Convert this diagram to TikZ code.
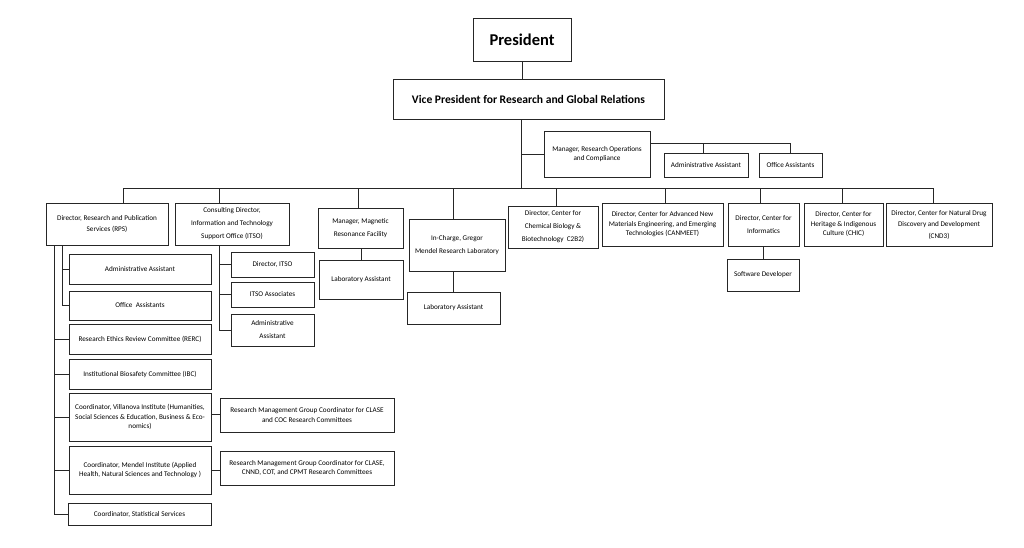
\documentclass[tikz,border=0pt]{standalone}
\usepackage{fontspec}
\setmainfont{Carlito}
\usetikzlibrary{positioning}

\tikzset{
  box/.style={draw=black!85,line width=0.8pt,align=center,inner sep=0pt,
    font=\fontsize{7.2}{9.5}\selectfont},
  loose/.style={font=\fontsize{7.2}{13}\selectfont},
  wh/.style 2 args={minimum width=#1pt,minimum height=#2pt},
  link/.style={draw=black!85,line width=0.8pt}
}

\begin{document}
\begin{tikzpicture}[x=1pt,y=-1pt]
  \useasboundingbox (0,0) rectangle (1024,547);

  % top of the tree
  \node[box,wh={98}{43},font=\fontsize{16.5}{19}\selectfont\bfseries] (pres) at (522,39.5) {President};
  \node[box,wh={271}{40},font=\fontsize{11.6}{14}\selectfont\bfseries] (vp) at (528.5,99)
    {Vice President for Research and Global Relations};
  \node[box,wh={106}{46}] (mgr) at (597,154) {Manager, Research Operations\\and Compliance};
  \node[box,wh={84}{24}] (mgraa) at (706,165) {Administrative Assistant};
  \node[box,wh={63}{24}] (mgroa) at (790.5,165) {Office Assistants};

  % directors
  \node[box,loose,wh={122}{42},font=\fontsize{7.2}{11.5}\selectfont] (rps) at (107,224)
    {Director, Research and Publication\\Services (RPS)};
  \node[box,loose,wh={114}{42}] (itso) at (232,224)
    {Consulting Director,\\Information and Technology\\Support Office (ITSO)};
  \node[box,loose,wh={85}{40}] (mrf) at (360.5,228) {Manager, Magnetic\\Resonance Facility};
  \node[box,loose,wh={96}{52}] (gml) at (457,245) {In-Charge, Gregor\\Mendel Research Laboratory};
  \node[box,loose,wh={90}{42}] (c2b2) at (553,227)
    {Director, Center for\\Chemical Biology \&\\Biotechnology~ C2B2)};
  \node[box,wh={121}{43}] (canmeet) at (662.5,224.5)
    {Director, Center for Advanced New\\Materials Engineering, and Emerging\\Technologies (CANMEET)};
  \node[box,wh={71}{43},font=\fontsize{7.2}{12.5}\selectfont] (cfi) at (763.5,224.5)
    {Director, Center for\\Informatics};
  \node[box,wh={79}{43}] (chic) at (843.5,224.5)
    {Director, Center for\\Heritage \& Indigenous\\Culture (CHIC)};
  \node[box,wh={106}{43},font=\fontsize{7.2}{11.5}\selectfont] (cnd3) at (939,224.5)
    {Director, Center for Natural Drug\\Discovery and Development\\(CND3)};

  % staff under directors
  \node[box,wh={84}{39}] (mrfla) at (361,279.5) {Laboratory Assistant};
  \node[box,wh={93}{32}] (gmlla) at (453.5,308) {Laboratory Assistant};
  \node[box,wh={72}{32}] (sd) at (763,275) {Software Developer};

  \node[box,wh={83}{25}] (ditso) at (272.5,264.5) {Director, ITSO};
  \node[box,wh={83}{25}] (itsoa) at (272.5,294.5) {ITSO Associates};
  \node[box,loose,wh={83}{32}] (itsoaa) at (272.5,330) {Administrative\\Assistant};

  % RPS column
  \node[box,wh={142}{30}] (rpsaa) at (140,269) {Administrative Assistant};
  \node[box,wh={142}{29}] (rpsoa) at (140,305.5) {Office~ Assistants};
  \node[box,wh={142}{30}] (rerc) at (140,339) {Research Ethics Review Committee (RERC)};
  \node[box,wh={142}{30}] (ibc) at (140,374) {Institutional Biosafety Committee (IBC)};
  \node[box,wh={142}{48}] (vil) at (140,417)
    {Coordinator, Villanova Institute (Humanities,\\Social Sciences \& Education, Business \& Eco-\\nomics)};
  \node[box,wh={142}{48}] (mend) at (140,470)
    {Coordinator, Mendel Institute (Applied\\Health, Natural Sciences and Technology )};
  \node[box,wh={143}{22}] (stat) at (139.5,514) {Coordinator, Statistical Services};
  \node[box,wh={174}{34}] (rmg1) at (307,415)
    {Research Management Group Coordinator for CLASE\\and COC Research Committees};
  \node[box,wh={174}{34}] (rmg2) at (307,468)
    {Research Management Group Coordinator for CLASE,\\CNND, COT, and CPMT Research Committees};

  % connectors
  \coordinate (spine) at (521,188);
  \coordinate (mgrbar) at (650,143);
  \coordinate (busL) at (123,188);
  \coordinate (busR) at (933,188);
  \coordinate (rpsin) at (62,0);
  \coordinate (rpsout) at (54,0);
  \coordinate (itsoln) at (219,0);

  \draw[link] (pres) -- (pres |- vp.north);
  \draw[link] (spine |- vp.south) -- (spine);
  \draw[link] (spine |- mgr.west) -- (mgr.west);
  \draw[link] (mgr.east |- mgrbar) -- (mgroa.north |- mgrbar) -- (mgroa.north);
  \draw[link] (mgraa.north |- mgrbar) ++(-3,0) -- ([xshift=-3pt]mgraa.north);
  \draw[link] (busL) -- (busR);
  \foreach \n/\x in {rps/123,itso/219,mrf/358,gml/453,c2b2/556,canmeet/665,cfi/760,chic/842,cnd3/933}{
    \path (\x,188) coordinate (drop);
    \draw[link] (drop) -- (drop |- \n.north);
  }
  \draw[link] (mrfla.north |- mrf.south) -- (mrfla.north);
  \draw[link] (gmlla.north |- gml.south) -- (gmlla.north);
  \draw[link] (sd.north |- cfi.south) -- (sd.north);

  \draw[link] (rpsin |- rps.south) -- (rpsin |- rpsoa.west) -- (rpsoa.west);
  \draw[link] (rpsin |- rpsaa.west) -- (rpsaa.west);
  \draw[link] (rpsout |- rps.south) -- (rpsout |- stat.west) -- (stat.west);
  \foreach \n in {rerc,ibc,vil,mend}
    \draw[link] (rpsout |- \n.west) -- (\n.west);
  \draw[link] ([yshift=3pt]vil.east) -- ([yshift=3pt]vil.east -| rmg1.west);
  \draw[link] (mend.east) -- (mend.east -| rmg2.west);

  \draw[link] (itsoln |- itso.south) -- (itsoln |- itsoaa.west) -- (itsoaa.west);
  \foreach \n in {ditso,itsoa}
    \draw[link] (itsoln |- \n.west) -- (\n.west);
\end{tikzpicture}
\end{document}
